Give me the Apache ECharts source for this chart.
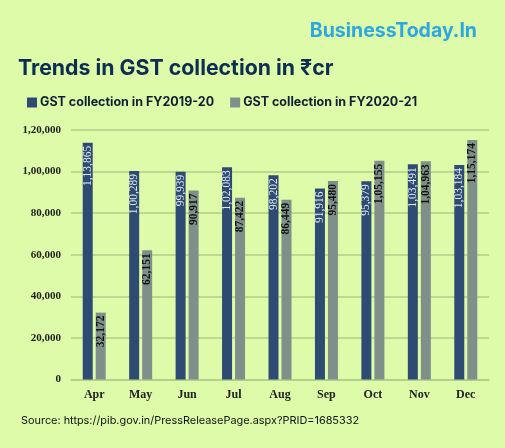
<!DOCTYPE html>
<html>
<head>
<meta charset="utf-8">
<script src="https://cdn.jsdelivr.net/npm/echarts@6/dist/echarts.min.js"></script>
<style>
html,body{margin:0;padding:0;background:#ddfba8;}
#c{width:505px;height:448px;}
</style>
</head>
<body>
<div id="c"></div>
<script>
var months = ['Apr','May','Jun','Jul','Aug','Sep','Oct','Nov','Dec'];
var fy1920 = [113865,100289,99939,102083,98202,91916,95379,103491,103184];
var fy2021 = [32172,62151,90917,87422,86449,95480,105155,104963,115174];
var seriesNames = ['GST collection in FY2019-20','GST collection in FY2020-21'];
var yTicks = [0,20000,40000,60000,80000,100000,120000];

function indian(n){
  var s = String(Math.round(n));
  if (s.length <= 3) return s;
  var last3 = s.slice(-3);
  var rest = s.slice(0,-3);
  rest = rest.replace(/\B(?=(\d{2})+(?!\d))/g, ',');
  return rest + ',' + last3;
}

var chart = echarts.init(document.getElementById('c'));
var serif = '"Liberation Serif", "DejaVu Serif", serif';
var sans = 'Inter, "Noto Sans", sans-serif';
chart.setOption({
  backgroundColor: '#ddfba8',
  animation: false,
  title: [
    {text: 'Trends in GST collection in ₹cr', left: 13, top: 53,
     textStyle: {fontFamily: sans, fontWeight: 'bold', fontSize: 21.3, color: '#0e2d52'}},
    {text: 'BusinessToday.In', right: 23, top: 16,
     textStyle: {fontFamily: sans, fontWeight: 'bold', fontSize: 19.5, color: '#2ea6e2'}},
    {text: 'Source: https://pib.gov.in/PressReleasePage.aspx?PRID=1685332', left: 16, top: 410,
     textStyle: {fontFamily: sans, fontWeight: 'normal', fontSize: 10.9, color: '#111111'}}
  ],
  legend: {
    data: seriesNames, left: 22, top: 91, itemWidth: 10, itemHeight: 10, itemGap: 16,
    icon: 'rect',
    textStyle: {fontFamily: sans, fontWeight: 'bold', fontSize: 12.5, color: '#0f1e30', padding: [0,0,0,-2]}
  },
  grid: {left: 71, right: 16, top: 130, bottom: 68.5, containLabel: false},
  xAxis: {
    type: 'category', data: months,
    axisLine: {lineStyle: {color: '#b3cc8a', width: 1.5}},
    axisTick: {show: false},
    axisLabel: {fontFamily: serif, fontWeight: 'bold', fontSize: 12, color: '#222', margin: 9}
  },
  yAxis: {
    type: 'value', min: 0, max: 120000, interval: 20000,
    axisLine: {show: false}, axisTick: {show: false},
    splitLine: {lineStyle: {color: '#b3cc8a', width: 1.5}},
    axisLabel: {fontFamily: serif, fontWeight: 'bold', fontSize: 11, color: '#222', margin: 10,
      formatter: function(v){ return yTicks.indexOf(v) >= 0 ? indian(v) : ''; }}
  },
  series: [
    {name: seriesNames[0], type: 'bar', data: fy1920, barWidth: 10, barGap: '30%',
     itemStyle: {color: '#2e4b73'},
     label: {show: true, position: 'insideTop', rotate: 90, align: 'right', verticalAlign: 'middle',
       distance: 3, fontFamily: serif, fontSize: 11.5, color: '#e4ecf2',
       formatter: function(p){ return indian(p.value); }}},
    {name: seriesNames[1], type: 'bar', data: fy2021, barWidth: 10,
     itemStyle: {color: '#7e9089'},
     label: {show: true, position: 'insideTop', rotate: 90, align: 'right', verticalAlign: 'middle',
       distance: 3, fontFamily: serif, fontWeight: 'bold', fontSize: 11.5, color: '#111',
       formatter: function(p){ return indian(p.value); }}}
  ]
});
</script>
</body>
</html>
